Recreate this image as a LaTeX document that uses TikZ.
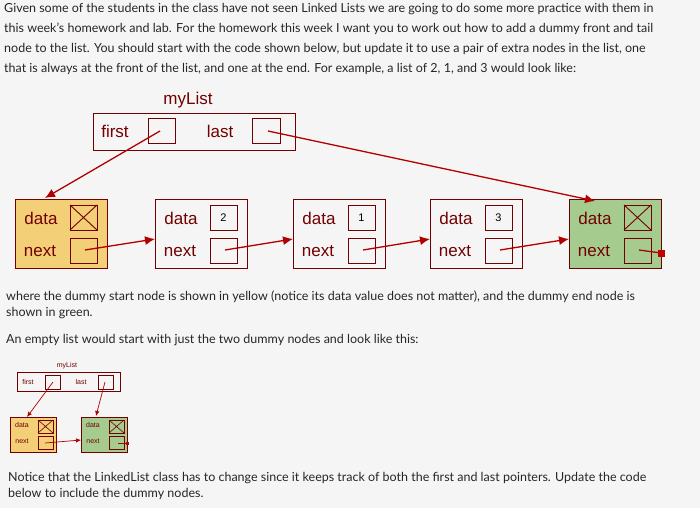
\documentclass[tikz,border=0pt]{standalone}
\usepackage{fontspec}
\setmainfont{Lato}
\newfontfamily\diagfont{Liberation Sans}
\usetikzlibrary{arrows.meta,calc}
\definecolor{yfill}{HTML}{F3CF78}
\definecolor{gfill}{HTML}{A5CC8E}
\begin{document}
\begin{tikzpicture}[x=1pt,y=-1pt,
  txt/.style={anchor=west,inner sep=0pt,font=\fontsize{12.5}{14}\selectfont,text=black!85},
  lab/.style={inner sep=0pt,text=red!45!black,font=\diagfont\fontsize{17}{19}\selectfont},
  slab/.style={inner sep=0pt,text=red!45!black,font=\diagfont\fontsize{7}{8}\selectfont},
  frame/.style={draw=red!45!black,line width=0.9pt},
  sframe/.style={draw=red!45!black,line width=0.6pt},
  ptr/.style={draw=red!70!black,line width=1.3pt,-{Latex[length=10pt,width=9pt]}},
  sptr/.style={draw=red!70!black,line width=0.7pt,-{Latex[length=5pt,width=4.5pt]}}]
\useasboundingbox (0,0) rectangle (700,508);
\fill[gray!8] (0,0) rectangle (700,508);
% text
\node[txt] (t1) at (4,9) {Given some of the students in the class have not seen Linked Lists we are going to do some more practice with them in};
\node[txt] (t2) at (4,29) {this week's homework and lab. For the homework this week I want you to work out how to add a dummy front and tail};
\node[txt] (t3) at (4,49) {node to the list. You should start with the code shown below, but update it to use a pair of extra nodes in the list, one};
\node[txt] (t4) at (4,69) {that is always at the front of the list, and one at the end. For example, a list of 2, 1, and 3 would look like:};
\node[txt] (t5) at (6,297) {where the dummy start node is shown in yellow (notice its data value does not matter), and the dummy end node is};
\node[txt] (t6) at (6,313) {shown in green.};
\node[txt] (t7) at (6,340) {An empty list would start with just the two dummy nodes and look like this:};
\node[txt] (t8) at (8,478) {Notice that the LinkedList class has to change since it keeps track of both the first and last pointers. Update the code};
\node[txt] (t9) at (8,494) {below to include the dummy nodes.};
% big diagram
\node[lab] (ml) at (188,100) {myList};
\draw[frame] (93,113) rectangle (295,150);
\node[lab] (fi) at (115,131) {first};
\draw[frame] (148,118) rectangle (175,143);
\node[lab] (la) at (220,131) {last};
\draw[frame] (252,118) rectangle (280,143);
\coordinate (fc) at (160,131); \coordinate (lc) at (268,131);
\foreach \x/\v/\n [count=\i] in {15/0/1,155/2/0,293/1/0,430/3/0,569/0/2}{
  \ifnum\n=1 \fill[yfill] (\x,199) rectangle ++(92,69);\fi
  \ifnum\n=2 \fill[gfill] (\x,199) rectangle ++(92,69);\fi
  \draw[frame] (\x,199) rectangle ++(92,69);
  \node[lab] (d\i) at ($(\x,218)+(26,0)$) {data};
  \node[lab] (n\i) at ($(\x,251)+(25,0)$) {next};
  \draw[frame] ($(\x,205)+(55,0)$) rectangle ++(27,25);
  \draw[frame] ($(\x,238)+(55,0)$) rectangle ++(27,25);
  \coordinate (nc\i) at ($(\x,250)+(70,0)$);
  \coordinate (in\i) at (\x,239);
  \ifnum\v=0 \draw[frame] ($(\x,205)+(55,0)$) -- ++(27,25) ($(\x,230)+(55,0)$) -- ++(27,-25);
  \else \node[inner sep=0pt,font=\diagfont\fontsize{11}{12}\selectfont] (v\i) at ($(\x,218)+(68.5,0)$) {\v};\fi
}
\draw[ptr] (fc) -- (45,198);
\draw[ptr] (lc) -- (595,201);
\draw[ptr] (nc1) -- (in2);
\draw[ptr] (nc2) -- (in3);
\draw[ptr] (nc3) -- (in4);
\draw[ptr] (nc4) -- (in5);
\coordinate (ge) at (661,253);
\draw[draw=red!70!black,line width=1.3pt] (nc5) -- (ge);
\fill[red!75!black] ($(ge)-(3.5,3.5)$) rectangle ++(7,7);
% small diagram
\node[slab] (sml) at (67,366) {myList};
\draw[sframe] (17,372) rectangle (120,391);
\node[slab] (sfi) at (28,382) {first};
\draw[sframe] (45,375) rectangle (60,389);
\node[slab] (sla) at (81,382) {last};
\draw[sframe] (98,375) rectangle (113,389);
\foreach \x/\n [count=\i] in {10/1,81/2}{
  \ifnum\n=1 \fill[yfill] (\x,417) rectangle ++(46,35);\fi
  \ifnum\n=2 \fill[gfill] (\x,417) rectangle ++(46,35);\fi
  \draw[sframe] (\x,417) rectangle ++(46,35);
  \node[slab] (sd\i) at ($(\x,425)+(12,0)$) {data};
  \node[slab] (sn\i) at ($(\x,441)+(12,0)$) {next};
  \draw[sframe] ($(\x,420)+(28,0)$) rectangle ++(15,13);
  \draw[sframe] ($(\x,420)+(28,0)$) -- ++(15,13) ($(\x,433)+(28,0)$) -- ++(15,-13);
  \draw[sframe] ($(\x,436)+(28,0)$) rectangle ++(15,13);
}
\draw[sptr] (53,382) -- (27,417);
\draw[sptr] (105,382) -- (96,416);
\draw[sptr] (45,443) -- (81,440);
\draw[draw=red!70!black,line width=0.7pt] (118,443) -- (127,443);
\fill[red!75!black] (125.5,441.5) rectangle ++(3.5,3.5);
\end{tikzpicture}
\end{document}
